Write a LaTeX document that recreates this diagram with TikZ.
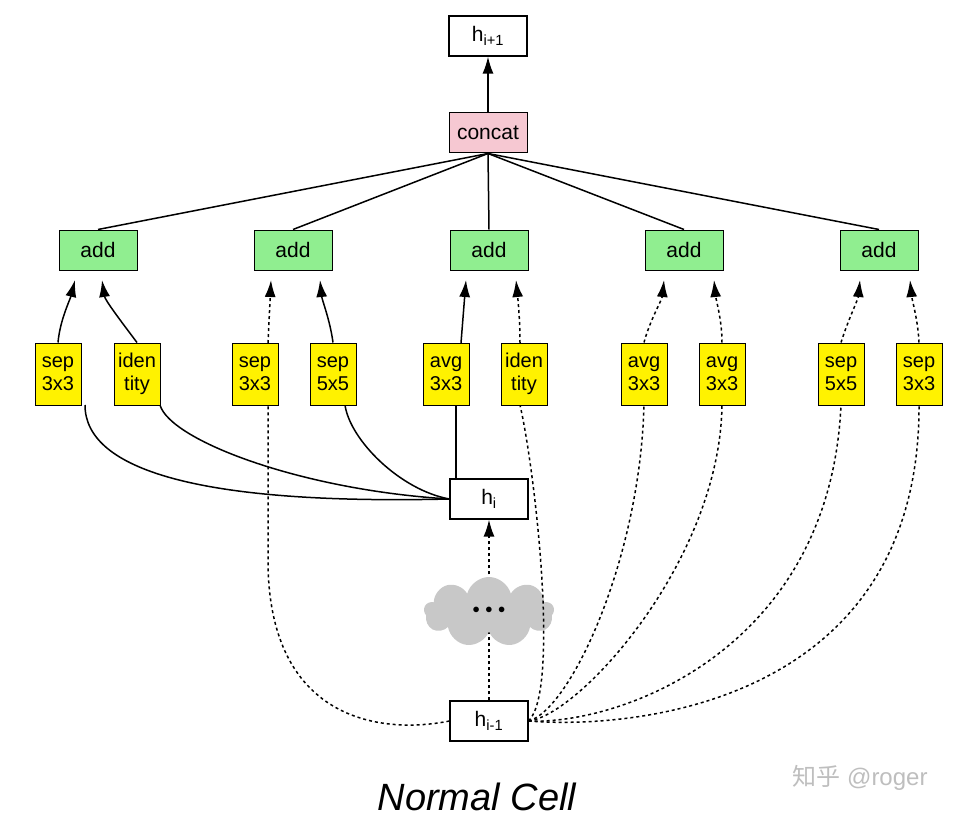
\documentclass[tikz,border=0pt]{standalone}
\usepackage{fontspec}
\setmainfont{Liberation Sans}
\newfontfamily\cjk{Noto Sans CJK SC}
\usetikzlibrary{shapes.symbols,arrows.meta}
\begin{document}
\begin{tikzpicture}[x=1pt,y=-1pt,
 box/.style={draw,line width=1.2pt,minimum width=78pt,minimum height=40pt,inner sep=0,font=\fontsize{21}{23}\selectfont},
 op/.style={draw,line width=1pt,fill=yellow,minimum width=46pt,minimum height=62pt,inner sep=0,align=center,font=\fontsize{20}{23}\selectfont},
 addn/.style={box,fill={rgb,255:red,144;green,238;blue,144},line width=1pt},
 arr/.style={line width=1.5pt,-{Latex[length=17pt,width=11pt]}},
 ln/.style={line width=1.5pt},
 dsh/.style={line width=1.5pt,dash pattern=on 3pt off 3pt},
 darr/.style={arr,dash pattern=on 3pt off 3pt}]
\useasboundingbox (0,0) rectangle (970,824);
\fill[white] (0,0) rectangle (970,824);
\node[box] (hout) at (488,36) {h\textsubscript{i+1}};
\node[box,fill={rgb,255:red,246;green,200;blue,210},line width=1pt] (cc) at (488,133) {concat};
\node[box] (hi) at (489,499) {h\textsubscript{i}};
\node[box] (hp) at (489,721) {h\textsubscript{i-1}};
\draw[darr] (hp.north) -- (hi.south);
\node[cloud,cloud puffs=9,aspect=2.2,fill={rgb,255:red,200;green,200;blue,200},draw=none,minimum width=130pt,minimum height=70pt] (cl) at (489,612) {};
\node[font=\fontsize{14}{14}\selectfont] (dots) at (489,610) {$\bullet\,\bullet\,\bullet$};
\draw[arr] (cc) -- (hout);
\foreach \n/\x in {a1/98,a2/293,a3/489,a4/684,a5/879}{
 \node[addn] (\n) at (\x,250) {add};
 \draw[ln] (cc.south) -- (\n.north);
}
\draw[ln] (hi.west) .. controls (200,505) and (85,470) .. (85,405);
\draw[ln] (hi.west) .. controls (300,490) and (170,440) .. (160,405);
\draw[ln] (hi.west) .. controls (400,490) and (350,440) .. (345,405);
\draw[ln] (456,478) -- (456,405);
\draw[dsh] (hp.west) .. controls (380,735) and (268,720) .. (268,560) -- (268,405);
\draw[dsh] (hp.east) .. controls (560,690) and (535,470) .. (520,405);
\draw[dsh] (hp.east) .. controls (570,710) and (640,560) .. (644,405);
\draw[dsh] (hp.east) .. controls (580,715) and (720,560) .. (722,405);
\draw[dsh] (hp.east) .. controls (620,725) and (830,650) .. (841,405);
\draw[dsh] (hp.east) .. controls (640,730) and (920,700) .. (919,405);
\node[op] (o1) at (58,374) {sep\\3x3};
\node[op] (o2) at (137,374) {iden\\tity};
\node[op] (o3) at (255,374) {sep\\3x3};
\node[op] (o4) at (333,374) {sep\\5x5};
\node[op] (o5) at (446,374) {avg\\3x3};
\node[op] (o6) at (524,374) {iden\\tity};
\node[op] (o7) at (644,374) {avg\\3x3};
\node[op] (o8) at (722,374) {avg\\3x3};
\node[op] (o9) at (841,374) {sep\\5x5};
\node[op] (o10) at (919,374) {sep\\3x3};
\draw[arr] (o1.north) .. controls (60,320) and (70,300) .. (75,280);
\draw[arr] (o2.north) .. controls (120,320) and (105,300) .. (102,280);
\draw[darr] (268,343) -- (271,280);
\draw[arr] (o4.north) .. controls (330,320) and (322,300) .. (320,280);
\draw[arr] (461,343) -- (466,280);
\draw[darr] (520,343) .. controls (520,320) and (518,300) .. (516,280);
\draw[darr] (o7.north) .. controls (650,320) and (662,300) .. (664,280);
\draw[darr] (o8.north) .. controls (722,320) and (716,300) .. (714,280);
\draw[darr] (o9.north) .. controls (848,320) and (858,300) .. (860,280);
\draw[darr] (o10.north) .. controls (918,320) and (912,300) .. (910,280);
\node[font=\fontsize{38}{40}\selectfont\itshape] (title) at (477,797) {Normal Cell};
\node[font=\fontsize{24}{26}\selectfont,text={rgb,255:red,190;green,190;blue,190}] (wm) at (860,778) {{\cjk 知乎} @roger};
\end{tikzpicture}
\end{document}
